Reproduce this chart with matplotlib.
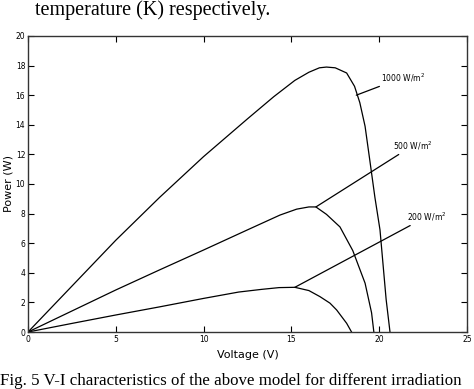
import matplotlib.pyplot as plt

# P-V curves (voltage V, power W)
v_1000 = [0, 2.5, 5.0, 7.5, 10.0, 12.5, 14.0, 15.2, 16.0, 16.6, 17.0, 17.5, 18.15, 18.6, 18.9, 19.2, 19.47, 19.76, 20.05, 20.4, 20.62]
p_1000 = [0, 3.1, 6.2, 9.1, 11.85, 14.4, 15.9, 17.0, 17.55, 17.85, 17.9, 17.85, 17.5, 16.6, 15.5, 13.9, 11.6, 9.1, 6.9, 2.2, 0]

v_500 = [0, 2.5, 5.0, 7.5, 10.0, 12.5, 14.35, 15.3, 16.0, 16.4, 17.0, 17.77, 18.5, 19.2, 19.57, 19.7]
p_500 = [0, 1.42, 2.84, 4.2, 5.54, 6.9, 7.9, 8.3, 8.45, 8.45, 7.95, 7.1, 5.5, 3.3, 1.3, 0]

v_200 = [0, 2.5, 5.0, 7.5, 10.0, 12.0, 13.3, 14.3, 15.2, 16.0, 16.63, 17.2, 17.58, 18.15, 18.43]
p_200 = [0, 0.58, 1.15, 1.7, 2.27, 2.7, 2.88, 3.0, 3.02, 2.8, 2.39, 1.95, 1.49, 0.59, 0]

labels = ['1000 W/m$^2$', '500 W/m$^2$', '200 W/m$^2$']
# (point on curve, label position) in data units
label_from = [(18.7, 16.0), (16.4, 8.45), (15.2, 3.02)]
label_to = [(20.1, 17.2), (20.8, 12.6), (21.6, 7.8)]

x_ticks = [0, 5, 10, 15, 20, 25]
y_ticks = [0, 2, 4, 6, 8, 10, 12, 14, 16, 18, 20]

narrow = ['Liberation Sans Narrow', 'DejaVu Sans']

fig = plt.figure(figsize=(4.74, 3.89), dpi=100)
ax = fig.add_axes([0.0591, 0.1465, 0.9259, 0.761])

for v, p in [(v_1000, p_1000), (v_500, p_500), (v_200, p_200)]:
    ax.plot(v, p, color='black', linewidth=0.9)

for txt, start, end in zip(labels, label_from, label_to):
    ax.annotate(txt, xy=start, xytext=end, fontsize=5.5, family=narrow,
                va='center', ha='left',
                arrowprops=dict(arrowstyle='-', color='black', lw=0.9,
                                shrinkA=0, shrinkB=0))

ax.set_xlim(0, 25)
ax.set_ylim(0, 20)
ax.set_xticks(x_ticks)
ax.set_yticks(y_ticks)
ax.tick_params(direction='in', top=True, right=True, length=4, width=0.8,
               labelsize=5.5, pad=2)
for lab in ax.get_xticklabels() + ax.get_yticklabels():
    lab.set_family(narrow)
for s in ax.spines.values():
    s.set_linewidth(1.0)
    s.set_color('#333333')

ax.set_xlabel('Voltage (V)', fontsize=8, family=narrow)
ax.set_ylabel('Power (W)', fontsize=8, family=narrow)
ax.xaxis.set_label_coords(0.5, -0.062)
ax.yaxis.set_label_coords(-0.032, 0.5)

# surrounding caption text from the page
fig.text(0.074, 0.962, 'temperature (K) respectively.', fontsize=14.5,
         family='Liberation Serif', ha='left', va='baseline')
fig.text(0.0, 0.01, 'Fig. 5 V-I characteristics of the above model for different irradiation',
         fontsize=12.2, family='Liberation Serif', ha='left', va='baseline')

fig.savefig('out.png', dpi=100)
